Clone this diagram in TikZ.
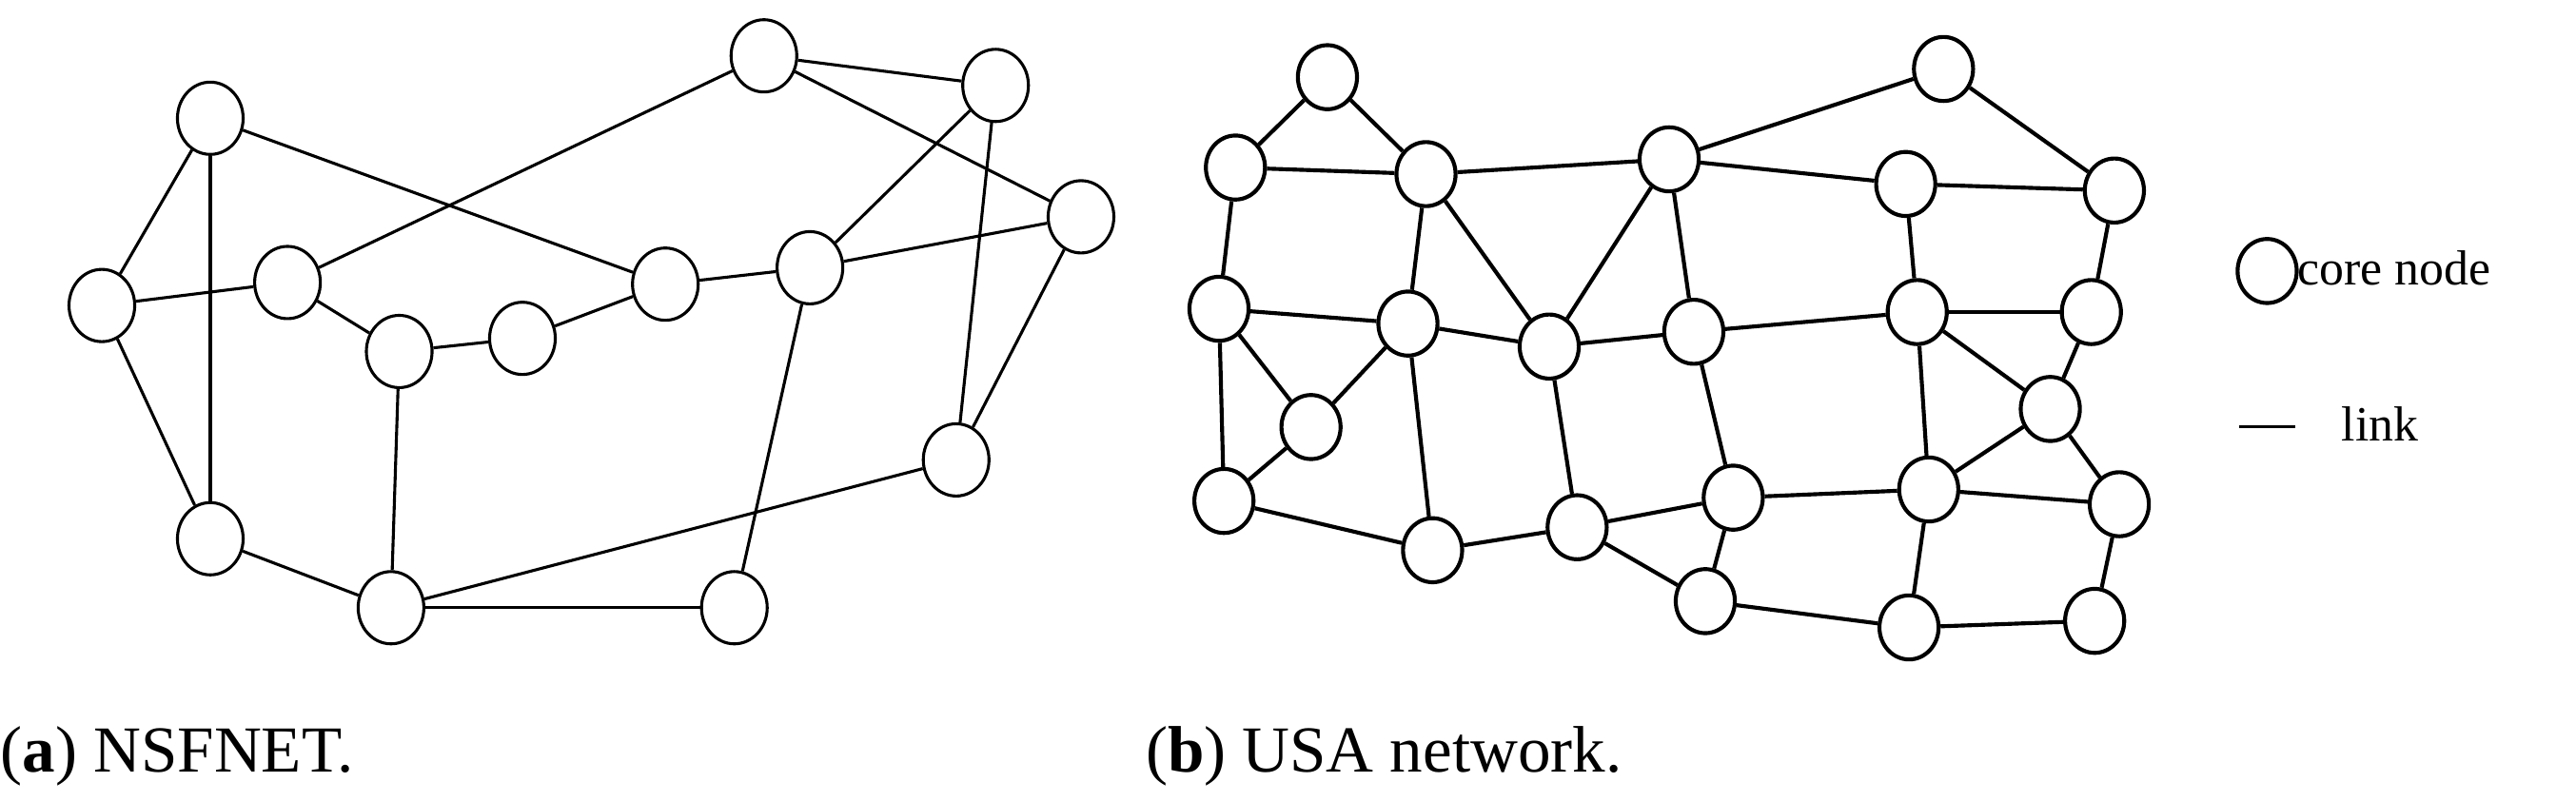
\documentclass[tikz,border=0pt]{standalone}
\usepackage{fontspec}
\setmainfont{Liberation Serif}
\usetikzlibrary{shapes.geometric}
\begin{document}
\begin{tikzpicture}[x=0.5pt,y=-0.5pt,
  nA/.style={ellipse,draw,line width=0.9pt,fill=white,minimum width=20pt,minimum height=22pt,inner sep=0pt},
  nB/.style={ellipse,draw,line width=1.2pt,fill=white,minimum width=18pt,minimum height=19.5pt,inner sep=0pt},
  eA/.style={line width=0.9pt},
  eB/.style={line width=1.2pt}]
\useasboundingbox (0,0) rectangle (1568,488);
% left
\foreach \n/\x/\y in {1/128/72,2/465/34,3/606/52,4/658/132,5/62/186,6/175/172,7/243/214,8/318/206,9/405/173,10/493/163,11/582/280,12/128/328,13/238/370,14/447/370}
  \node[nA] (a\n) at (\x,\y) {};
\foreach \u/\v in {1/5,1/12,1/9,5/6,5/12,6/2,6/7,7/8,8/9,9/10,10/4,10/3,10/14,2/3,2/4,3/11,4/11,7/13,12/13,13/14,13/11}
  \draw[eA] (a\u) -- (a\v);
% right
\foreach \n/\x/\y in {1/808/47,2/752/102,3/868/106,4/1016/97,5/1183/42,6/1160/112,7/1287/116,8/742/188,9/857/197,10/943/211,11/1031/202,12/1167/190,13/1273/190,14/798/260,15/1248/249,16/745/305,17/872/335,18/960/321,19/1055/303,20/1174/298,21/1290/307,22/1038/366,23/1162/382,24/1275/378}
  \node[nB] (b\n) at (\x,\y) {};
\foreach \u/\v in {1/2,1/3,2/3,2/8,3/4,3/9,3/10,4/5,4/6,4/10,4/11,5/7,6/7,6/12,7/13,8/9,8/14,8/16,9/14,9/10,9/17,10/11,10/18,11/12,11/19,12/13,12/15,12/20,13/15,15/20,15/21,14/16,16/17,17/18,18/19,18/22,19/20,19/22,20/21,20/23,21/24,22/23,23/24}
  \draw[eB] (b\u) -- (b\v);
% legend
\node[nB] (lg) at (1380,165) {};
\node[anchor=west,font=\fontsize{15}{18}\selectfont,inner sep=0pt] (lt) at (1398,163) {core node};
\coordinate (l1) at (1363,260);
\coordinate (l2) at (1397,260);
\draw[eA] (l1) -- (l2);
\node[anchor=west,font=\fontsize{15}{18}\selectfont,inner sep=0pt] (lk) at (1425,258) {link};
% captions
\node[anchor=base west,font=\fontsize{20}{24}\selectfont,inner sep=0pt] (ca) at (0,470) {(\textbf{a}) NSFNET.};
\node[anchor=base west,font=\fontsize{20}{24}\selectfont,inner sep=0pt] (cb) at (697,470) {(\textbf{b}) USA network.};
\end{tikzpicture}
\end{document}
